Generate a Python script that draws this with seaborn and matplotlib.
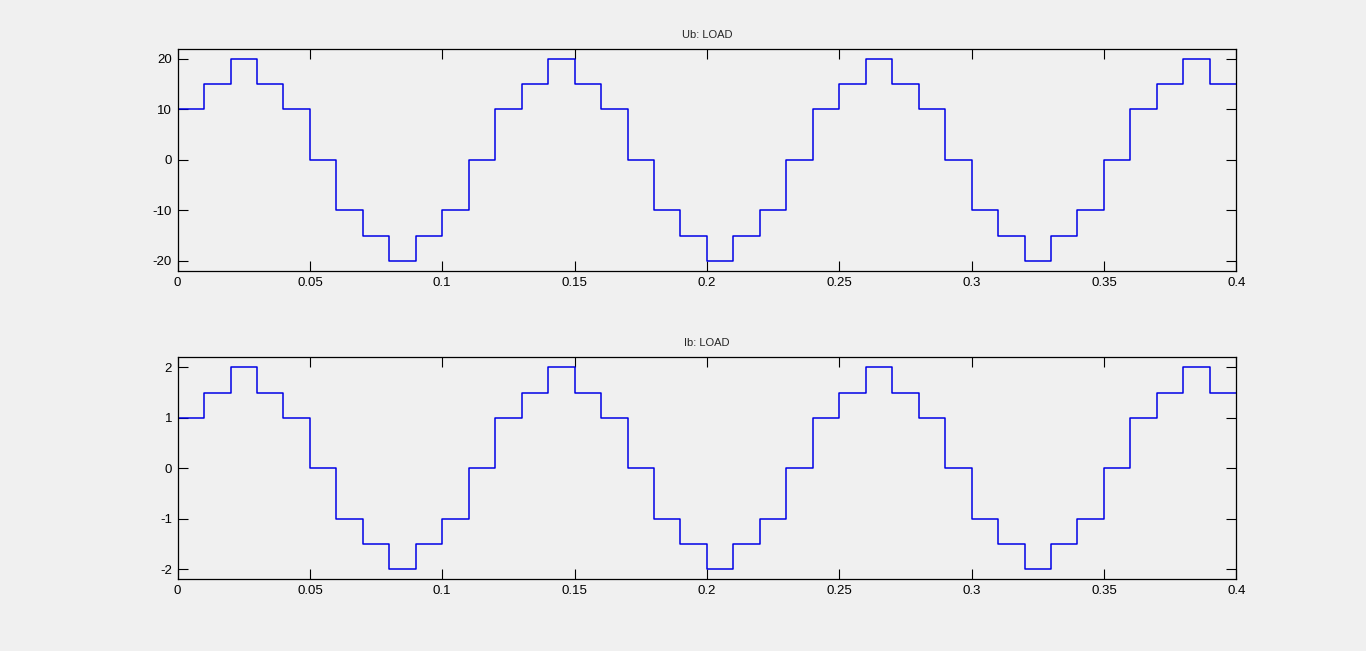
import numpy as np
import pandas as pd
import matplotlib
matplotlib.use("Agg")
import matplotlib.pyplot as plt
import seaborn as sns

# Step times (s) and staircase values
t_steps = [0.00, 0.01, 0.02, 0.03, 0.04, 0.05, 0.06, 0.07, 0.08, 0.09,
           0.10, 0.11, 0.12, 0.13, 0.14, 0.15, 0.16, 0.17, 0.18, 0.19,
           0.20, 0.21, 0.22, 0.23, 0.24, 0.25, 0.26, 0.27, 0.28, 0.29,
           0.30, 0.31, 0.32, 0.33, 0.34, 0.35, 0.36, 0.37, 0.38, 0.39, 0.40]
ub_values = [10, 15, 20, 15, 10, 0, -10, -15, -20, -15,
             -10, 0, 10, 15, 20, 15, 10, 0, -10, -15,
             -20, -15, -10, 0, 10, 15, 20, 15, 10, 0,
             -10, -15, -20, -15, -10, 0, 10, 15, 20, 15, 15]
ib_values = [1, 1.5, 2, 1.5, 1, 0, -1, -1.5, -2, -1.5,
             -1, 0, 1, 1.5, 2, 1.5, 1, 0, -1, -1.5,
             -2, -1.5, -1, 0, 1, 1.5, 2, 1.5, 1, 0,
             -1, -1.5, -2, -1.5, -1, 0, 1, 1.5, 2, 1.5, 1.5]

titles = ["Ub: LOAD", "Ib: LOAD"]
x_ticks = [0, 0.05, 0.1, 0.15, 0.2, 0.25, 0.3, 0.35, 0.4]
x_ticklabels = ["0", "0.05", "0.1", "0.15", "0.2", "0.25", "0.3", "0.35", "0.4"]
ub_ticks = [-20, -10, 0, 10, 20]
ib_ticks = [-2, -1, 0, 1, 2]

sns.set_theme(style="ticks")
plt.rcParams['font.family'] = ['Liberation Sans', 'DejaVu Sans']

bg = "#f0f0f0"
fig = plt.figure(figsize=(13.66, 6.51), dpi=100, facecolor=bg)
ax1 = fig.add_axes([0.13, 0.5838, 0.775, 0.3412])
ax2 = fig.add_axes([0.13, 0.11, 0.775, 0.3412])

specs = [
    (ax1, ub_values, ub_ticks, (-22, 22), titles[0]),
    (ax2, ib_values, ib_ticks, (-2.2, 2.2), titles[1]),
]
for ax, vals, yt, yl, title in specs:
    df = pd.DataFrame({"t": t_steps, "v": vals})
    sns.lineplot(data=df, x="t", y="v", ax=ax, color="#0000e6", linewidth=1.1,
                 drawstyle="steps-post", estimator=None, sort=False)
    ax.set_facecolor(bg)
    ax.set_xlim(0, 0.4)
    ax.set_ylim(*yl)
    ax.set_xticks(x_ticks)
    ax.set_xticklabels(x_ticklabels)
    ax.set_yticks(yt)
    ax.set_yticklabels([str(v) for v in yt])
    ax.set_xlabel("")
    ax.set_ylabel("")
    ax.set_title(title, fontsize=8, pad=8)
    ax.tick_params(direction="in", length=7, width=0.8, labelsize=9.5,
                   top=True, right=True, colors="black", pad=4)
    for s in ax.spines.values():
        s.set_visible(True)
        s.set_color("black")
        s.set_linewidth(0.9)

fig.savefig("out.png", dpi=100, facecolor=bg)
